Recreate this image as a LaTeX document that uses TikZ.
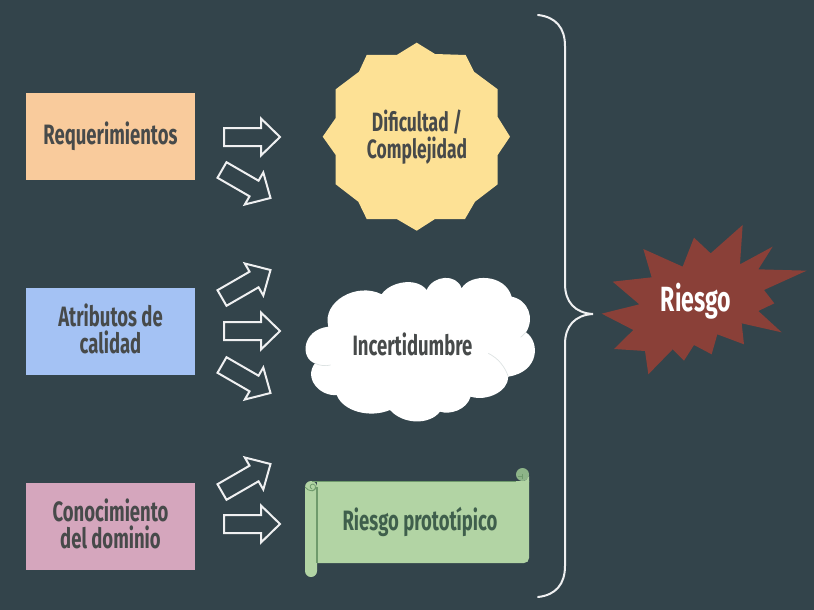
\documentclass[tikz,border=0pt]{standalone}
\usepackage{fontspec}
\setmainfont{Fira Sans}[FakeStretch=0.66]
\definecolor{bgc}{HTML}{33444B}
\definecolor{peach}{HTML}{F9CB9C}
\definecolor{bluec}{HTML}{A4C2F4}
\definecolor{pinkc}{HTML}{D5A6BD}
\definecolor{greenc}{HTML}{B2D4A4}
\definecolor{greend}{HTML}{6F9A6C}
\definecolor{greenm}{HTML}{8DB488}
\definecolor{yellowc}{HTML}{FDE195}
\definecolor{redc}{HTML}{8A4038}
\definecolor{inkc}{HTML}{474A4A}
\definecolor{inkg}{HTML}{3F5F4C}
\definecolor{crease}{HTML}{DDE3E3}
\tikzset{
  x=1pt,y=-1pt,
  lab/.style={font=\fontsize{28}{27}\selectfont\bfseries,text=inkc,align=center,inner sep=0pt},
  srcbox/.style={fill=#1,draw=none,minimum width=169pt,minimum height=87pt,inner sep=0pt,anchor=north west},
  flow/.style={draw=white!92!bgc,line width=2pt,line join=miter,fill=none},
  pics/blockarrow/.style={code={
    \draw[flow] (0,-9) -- (37,-9) -- (37,-18.5) -- (56,0) -- (37,18.5) -- (37,9) -- (0,9) -- cycle;
  }},
}
\begin{document}
\begin{tikzpicture}
\useasboundingbox (0,0) rectangle (814,610);
\fill[bgc] (0,0) rectangle (814,610);

% source boxes
\node[srcbox=peach] (req) at (26,93) {};
\node[srcbox=bluec] (atr) at (26,288) {};
\node[srcbox=pinkc] (con) at (26,483) {};
\node[lab] (reqt) at (110.5,136) {Requerimientos};
\node[lab] (atrt) at (110.5,329) {Atributos de\\calidad};
\node[lab] (cont) at (110.5,524) {Conocimiento\\del dominio};

% block arrows
\pic at (224,137) {blockarrow};
\pic[rotate=-30] at (222,170) {blockarrow};
\pic[rotate=30] at (222,298) {blockarrow};
\pic at (224,331) {blockarrow};
\pic[rotate=-30] at (222,365) {blockarrow};
\pic[rotate=30] at (222,492) {blockarrow};
\pic at (224,524) {blockarrow};

% star
\fill[yellowc] (416.7,42.7) -- (435,54) -- (465.7,55) -- (474,71.7) -- (497.7,89.3) -- (497.7,117) -- (510,136.7) -- (497.7,155) -- (497.7,184.3) -- (475,201.7) -- (465,219) -- (435,219) -- (416.7,230.7) -- (396.7,219) -- (366.7,219) -- (358.3,201.7) -- (335.7,184.3) -- (335.7,155) -- (322.7,136.7) -- (335.7,118) -- (335.7,89.3) -- (359,71.7) -- (366.7,55) -- (396.7,55) -- cycle;
\node[lab,font=\fontsize{26.5}{26.5}\selectfont\bfseries] (dif) at (417,137) {Dificultad /\\Complejidad};

% cloud
\begin{scope}[shift={(200,255)},x=0.3333pt,y=-0.3333pt]
\fill[white] (385,215) .. controls (365,140) and (470,80) .. (545,118)
 .. controls (570,80) and (650,65) .. (680,105)
 .. controls (700,60) and (770,55) .. (785,100)
 .. controls (810,55) and (915,55) .. (935,125)
 .. controls (985,135) and (1005,190) .. (978,232)
 .. controls (1020,260) and (1020,350) .. (925,365)
 .. controls (925,410) and (860,440) .. (812,425)
 .. controls (800,465) and (750,480) .. (720,470)
 .. controls (690,510) and (610,510) .. (570,465)
 .. controls (510,490) and (430,470) .. (410,420)
 .. controls (360,425) and (310,370) .. (345,325)
 .. controls (300,310) and (305,225) .. (385,215) -- cycle;
\draw[crease,line width=0.7pt] (865,295) .. controls (895,310) and (915,335) .. (925,365);
\draw[crease,line width=0.7pt] (345,325) .. controls (360,332) and (375,334) .. (392,330);
\draw[crease,line width=0.7pt] (978,232) -- (962,247);
\end{scope}
\node[lab] (inc) at (412.5,344) {Incertidumbre};

% scroll
\fill[greenc] (317,481) -- (529,481) -- (529,558) .. controls (529,561) and (527,563) .. (524,563) -- (317,563) -- cycle;
\fill[greenc,rounded corners=6pt] (305,481) rectangle (317,577);
\fill[greenm] (522.5,474.5) circle[radius=6.5pt];
\fill[greenc] (516,481) .. controls (520,483) and (527,482) .. (529,476) -- (529,482) -- (516,482) -- cycle;
\draw[greend,line width=0.7pt] (522,479) -- (522,474) (522,476) -- (518,476);
\draw[greend,line width=0.9pt] (312,481) -- (516,481);
\draw[greend,line width=1.1pt] (317,487) -- (317,563);
\draw[greend,line width=0.8pt] (305,487) .. controls (309,492) and (314,492) .. (317,487);
\draw[greend,line width=0.8pt] (312,491) .. controls (316,490) and (317,485) .. (313,484) .. controls (310,484) and (309,488) .. (312,489);
\node[lab,text=inkg] (pro) at (420,522) {Riesgo prototípico};

% brace
\draw[white!92!bgc,line width=2pt,line cap=round] (538,15) .. controls (556,17) and (565,28) .. (565,46) -- (565,284) .. controls (565,302) and (575,313) .. (593,314) .. controls (575,315) and (565,326) .. (565,344) -- (565,566) .. controls (565,584) and (556,595) .. (538,597);

% burst
\begin{scope}[shift={(590,215)},x=0.3333pt,y=-0.3333pt]
\fill[redc] (35,296) -- (148,268) -- (68,200) -- (185,187) -- (160,102) -- (278,155) -- (312,68) -- (362,115) -- (458,30) -- (450,148) -- (548,95) -- (505,163) -- (650,167) -- (522,225) -- (553,265) -- (505,288) -- (575,352) -- (455,325) -- (462,388) -- (382,358) -- (365,418) -- (312,390) -- (282,437) -- (248,403) -- (175,478) -- (165,408) -- (72,402) -- (130,345) -- cycle;
\end{scope}
\node[lab,text=white,font=\fontsize{35}{35}\selectfont\bfseries] (rie) at (696,301) {Riesgo};
\end{tikzpicture}
\end{document}
